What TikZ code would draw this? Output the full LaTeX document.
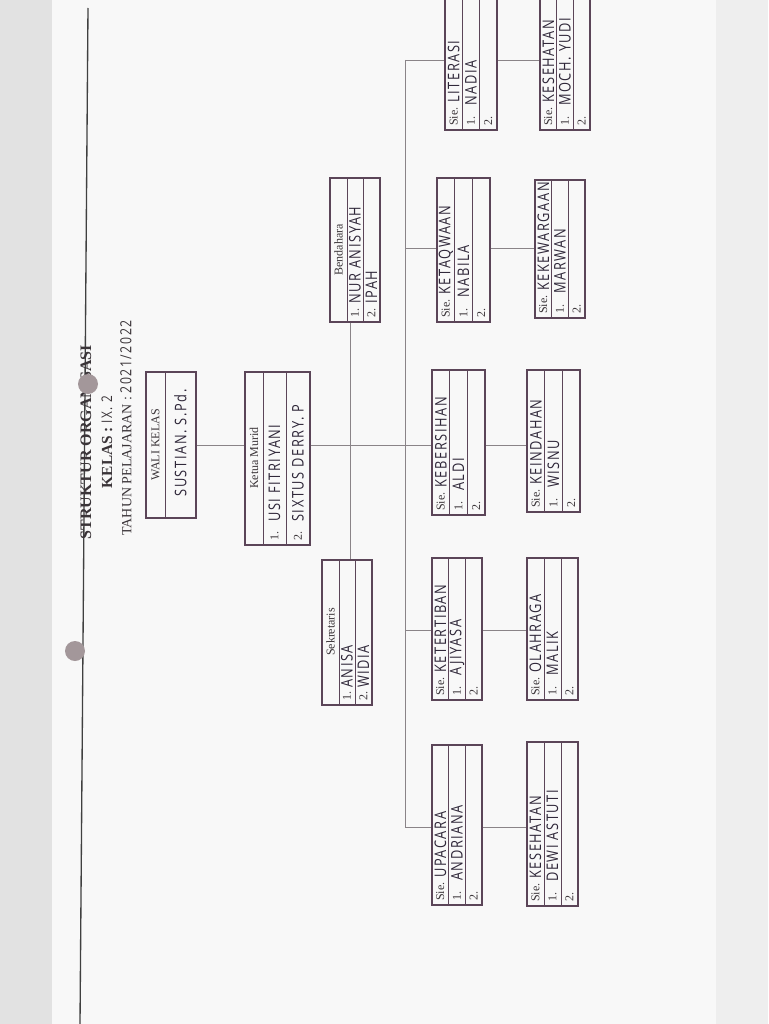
\documentclass[tikz,border=0pt]{standalone}
\usepackage{fontspec}
\setmainfont{Liberation Serif}
\newfontfamily\hand[FakeStretch=0.8,LetterSpace=10]{Open Sans}
\usetikzlibrary{calc}
\definecolor{ink}{HTML}{2E2638}
\definecolor{boxc}{HTML}{5B4558}
\definecolor{linec}{HTML}{8A8488}
\definecolor{prt}{HTML}{3A3438}
\definecolor{paper}{HTML}{F8F8F8}
\definecolor{scan}{HTML}{E2E2E2}
\definecolor{holec}{HTML}{A3979A}
\tikzset{
  orgbox/.style={draw=boxc, line width=0.85pt, rectangle, inner sep=0pt},
  divl/.style={draw=boxc, line width=0.6pt},
  conn/.style={draw=linec, line width=0.6pt},
  prtxt/.style={text=prt, font=\fontsize{9}{10}\selectfont, rotate=90, inner sep=0pt},
  handtxt/.style={text=ink, font=\hand\fontsize{12}{13}\selectfont, rotate=90, inner sep=0pt},
}
\newcommand\frameb[5]{%
  \pgfmathsetmacro\cx{(#2+#4)/2}\pgfmathsetmacro\cy{(#3+#5)/2}%
  \pgfmathsetmacro\bw{(#4-#2)*0.75}\pgfmathsetmacro\bh{(#5-#3)*0.75}%
  \node[orgbox, minimum width=\bw pt, minimum height=\bh pt] (#1) at (\cx,\cy) {};}
\newcommand\siebox[7]{%
  \frameb{#1}{#2}{#3}{#4}{#5}%
  \pgfmathsetmacro\da{#2+(#4-#2)/3}\pgfmathsetmacro\db{#2+2*(#4-#2)/3}%
  \draw[divl] (\da,#3) -- (\da,#5); \draw[divl] (\db,#3) -- (\db,#5);
  \pgfmathsetmacro\ra{#2+(#4-#2)/6}\pgfmathsetmacro\rb{#2+(#4-#2)/2}\pgfmathsetmacro\rc{#2+5*(#4-#2)/6}%
  \node[prtxt, anchor=west] (#1-s) at (\ra,#5-4) {Sie.};
  \node[handtxt, anchor=west] (#1-t) at (\ra,#5-27) {#6};
  \node[prtxt, anchor=west] (#1-a) at (\rb,#5-4) {1.};
  \node[handtxt, anchor=west] (#1-m) at (\rb,#5-24) {#7};
  \node[prtxt, anchor=west] (#1-b) at (\rc,#5-4) {2.};
}
\begin{document}
\begin{tikzpicture}[x=0.75pt,y=-0.75pt]
\useasboundingbox (0,0) rectangle (768,1024);
\fill[paper] (0,0) rectangle (768,1024);
\fill[scan] (0,0) rectangle (52,1024);
\fill[scan!45!paper] (716,0) rectangle (768,1024);
\draw[draw=black!75, line width=1pt] (88,8) -- (80,1024);

% title
\node[text=prt, font=\bfseries\fontsize{12}{13}\selectfont, rotate=90] (title) at (86,442) {STRUKTUR ORGANISASI};
\node[text=prt, font=\bfseries\fontsize{11.5}{12}\selectfont, rotate=90] (kelas) at (107,442) {KELAS : {\mdseries\hand\fontsize{11}{12}\selectfont IX. 2}};
\node[text=prt, font=\fontsize{10.5}{12}\selectfont, rotate=90] (tahun) at (126,428) {TAHUN PELAJARAN : {\hand\fontsize{11.5}{12}\selectfont 2021/2022}};
\fill[holec] (88,384) circle (10);
\fill[holec] (75,651) circle (10);

% wali kelas
\frameb{wali}{146}{372}{196}{518}
\draw[divl] (165,372) -- (165,518);
\node[prtxt] (wali-h) at (155.5,445) {WALI KELAS};
\node[handtxt] (wali-n) at (180.5,443) {SUSTIAN. S.Pd.};

% ketua murid
\frameb{ketua}{245}{372}{310}{545}
\draw[divl] (263,372) -- (263,545);
\draw[divl] (286,372) -- (286,545);
\node[prtxt] (ketua-h) at (254,458) {Ketua Murid};
\node[prtxt, anchor=west] (ketua-a) at (274.5,541) {1.};
\node[handtxt, anchor=west] (ketua-m1) at (274.5,522) {USI FITRIYANI};
\node[prtxt, anchor=west] (ketua-b) at (298,541) {2.};
\node[handtxt, anchor=west] (ketua-m2) at (298,522) {SIXTUS DERRY. P};

% bendahara
\frameb{bend}{330}{178}{380}{322}
\draw[divl] (347,178) -- (347,322);
\draw[divl] (363,178) -- (363,322);
\node[prtxt] (bend-h) at (338.5,250) {Bendahara};
\node[prtxt, anchor=west] (bend-a) at (355,318) {1.};
\node[handtxt, anchor=west] (bend-m1) at (355,304) {NUR ANISYAH};
\node[prtxt, anchor=west] (bend-b) at (371.5,318) {2.};
\node[handtxt, anchor=west] (bend-m2) at (371.5,304) {IPAH};

% sekretaris
\frameb{sek}{322}{560}{372}{705}
\draw[divl] (339,560) -- (339,705);
\draw[divl] (355,560) -- (355,705);
\node[prtxt] (sek-h) at (330.5,632) {Sekretaris};
\node[prtxt, anchor=west] (sek-a) at (347,701) {1.};
\node[handtxt, anchor=west] (sek-m1) at (347,688) {ANISA};
\node[prtxt, anchor=west] (sek-b) at (363.5,701) {2.};
\node[handtxt, anchor=west] (sek-m2) at (363.5,688) {WIDIA};

% seksi column 1
\siebox{lit}{445}{-5}{497}{130}{LITERASI}{NADIA}
\siebox{taq}{437}{178}{490}{322}{KETAQWAAN}{NABILA}
\siebox{ber}{432}{370}{485}{515}{KEBERSIHAN}{ALDI}
\siebox{tib}{432}{558}{482}{700}{KETERTIBAN}{AJIYASA}
\siebox{upa}{432}{745}{482}{905}{UPACARA}{ANDRIANA}
% seksi column 2
\siebox{kes1}{540}{-5}{590}{130}{KESEHATAN}{MOCH. YUDI}
\siebox{war}{535}{180}{585}{318}{KEKEWARGAAN}{MARWAN}
\siebox{ind}{527}{370}{580}{512}{KEINDAHAN}{WISNU}
\siebox{ola}{527}{558}{578}{700}{OLAHRAGA}{MALIK}
\siebox{kes2}{527}{742}{578}{906}{KESEHATAN}{DEWI ASTUTI}

% connectors
\coordinate (hub) at (405,445);
\coordinate (bsx) at (350,445);
\coordinate (c1) at (405,60);
\coordinate (c2) at (405,248);
\coordinate (c4) at (405,630);
\coordinate (c5) at (405,827);
\draw[conn] (wali.east |- hub) -- (ketua.west |- hub);
\draw[conn] (ketua.east |- hub) -- (hub);
\draw[conn] (bsx |- bend.south) -- (bsx |- sek.north);
\draw[conn] (c1) -- (c5);
\draw[conn] (c1) -- (c1 -| lit.west);
\draw[conn] (c2) -- (c2 -| taq.west);
\draw[conn] (hub) -- (hub -| ber.west);
\draw[conn] (c4) -- (c4 -| tib.west);
\draw[conn] (c5) -- (c5 -| upa.west);
\draw[conn] (c1 -| lit.east) -- (c1 -| kes1.west);
\draw[conn] (c2 -| taq.east) -- (c2 -| war.west);
\draw[conn] (hub -| ber.east) -- (hub -| ind.west);
\draw[conn] (c4 -| tib.east) -- (c4 -| ola.west);
\draw[conn] (c5 -| upa.east) -- (c5 -| kes2.west);
\end{tikzpicture}
\end{document}
